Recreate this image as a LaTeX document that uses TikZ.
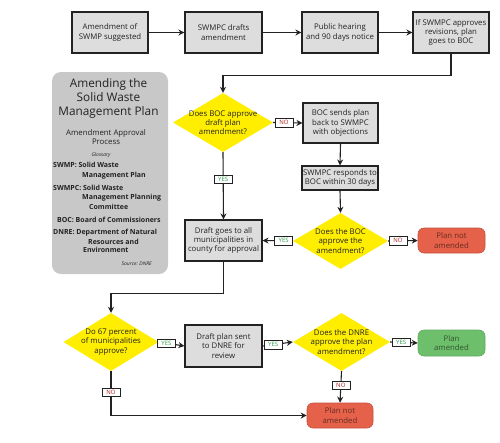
\documentclass[tikz,border=0pt]{standalone}
\usepackage{fontspec}
\setmainfont{Open Sans}
\usetikzlibrary{shapes.geometric,arrows.meta}
\definecolor{boxgray}{HTML}{DDDDDD}
\definecolor{glossgray}{HTML}{C8C8C8}
\definecolor{diayellow}{HTML}{FFEE00}
\definecolor{termred}{HTML}{E5614A}
\definecolor{termgreen}{HTML}{6DBF6B}
\definecolor{yesgreen}{HTML}{2E9A4A}
\definecolor{nored}{HTML}{B02020}
\definecolor{ink}{HTML}{222222}
\newcommand{\boxfont}{\fontsize{7.8}{9.2}\selectfont}
\newcommand{\lblfont}{\fontsize{6}{6}\selectfont}
\begin{document}
\begin{tikzpicture}[x=1pt,y=-1pt,
  proc/.style={draw=ink, line width=1.1pt, fill=boxgray, inner sep=1pt, align=center, font=\boxfont, text=ink},
  dec/.style={diamond, fill=diayellow, inner sep=0pt},
  dtext/.style={align=center, font=\boxfont, text=ink},
  term/.style={rounded corners=6pt, inner sep=1pt, align=center, font=\boxfont, line width=0.6pt},
  conn/.style={line width=1.1pt, draw=ink, -{Stealth[length=6pt,width=6pt]}},
  yeslbl/.style={draw=ink, line width=0.6pt, fill=white, text=yesgreen, font=\lblfont, inner sep=1pt, minimum width=18pt, minimum height=8.5pt},
  nolbl/.style={draw=ink, line width=0.6pt, fill=white, text=nored, font=\lblfont, inner sep=1pt, minimum width=18pt, minimum height=8.5pt},
  gl/.style={font=\fontsize{7}{8}\selectfont\bfseries, text=ink, inner sep=0pt}
]
\useasboundingbox[fill=white] (0,0) rectangle (500,442);

% glossary panel
\node[fill=glossgray, rounded corners=9pt, minimum width=116pt, minimum height=202pt, inner sep=0pt] (gloss) at (110,173) {};
\node[font=\fontsize{11.8}{14}\selectfont, text=ink, align=center, inner sep=0pt] (gtitle) at (108.5,98) {Amending the\\Solid Waste\\Management Plan};
\node[font=\fontsize{7.8}{9}\selectfont, text=ink, align=center, inner sep=0pt] (gsub) at (106,137.5) {Amendment Approval\\Process};
\node[font=\fontsize{5}{6}\selectfont\itshape, text=ink, inner sep=0pt] (gglos) at (101,155) {Glossary};
\node[gl, anchor=west] (g1) at (53,165) {SWMP: Solid Waste};
\node[gl, anchor=west] (g2) at (82,176) {Management Plan};
\node[gl, anchor=west] (g3) at (53,188) {SWMPC: Solid Waste};
\node[gl, anchor=west] (g4) at (82,198) {Management Planning};
\node[gl, anchor=west] (g5) at (89,207) {Committee};
\node[gl, anchor=west] (g6) at (57,220) {BOC: Board of Commissioners};
\node[gl, anchor=west] (g7) at (53,233) {DNRE: Department of Natural};
\node[gl, anchor=west] (g8) at (88,242) {Resources and};
\node[gl, anchor=west] (g9) at (83,250) {Environment};
\node[font=\fontsize{5}{6}\selectfont\itshape, text=ink, inner sep=0pt, anchor=east] (gsrc) at (152,264) {Source: DNRE};

% top row
\node[proc, minimum width=76pt, minimum height=41pt] (b1) at (110,32.5) {Amendment of\\SWMP suggested};
\node[proc, minimum width=77pt, minimum height=41pt] (b2) at (223.5,32.5) {SWMPC drafts\\amendment};
\node[proc, minimum width=76pt, minimum height=41pt] (b3) at (340,32.5) {Public hearing\\and 90 days notice};
\node[proc, minimum width=76pt, minimum height=41pt] (b4) at (451,32.5) {If SWMPC approves\\revisions, plan\\goes to BOC};

% first decision
\node[dec, minimum width=100pt, minimum height=59pt] (d1) at (223,122.5) {};
\node[dtext] (d1t) at (d1) {Does BOC approve\\draft plan\\amendment?};
\node[proc, minimum width=75pt, minimum height=40pt] (b5) at (340.5,123) {BOC sends plan\\back to SWMPC\\with objections};
\node[proc, minimum width=76pt, minimum height=24pt] (b6) at (340,178) {SWMPC responds to\\BOC within 30 days};

% second decision
\node[dec, minimum width=95pt, minimum height=56pt] (d2) at (340.5,241) {};
\node[dtext] (d2t) at (d2) {Does the BOC\\approve the\\amendment?};
\node[proc, minimum width=77pt, minimum height=41pt] (b7) at (223.5,240.5) {Draft goes to all\\municipalities in\\county for approval};
\node[term, fill=termred, draw=black!15!termred, minimum width=67pt, minimum height=25pt, text=black!55!termred] (r1) at (451.5,240.5) {Plan not\\amended};

% bottom row
\node[dec, minimum width=95pt, minimum height=58pt] (d3) at (111,342) {};
\node[dtext] (d3t) at (d3) {Do 67 percent\\of municipalities\\approve?};
\node[proc, minimum width=77pt, minimum height=42pt] (b8) at (223.5,346) {Draft plan sent\\to DNRE for\\review};
\node[dec, minimum width=97pt, minimum height=58pt] (d4) at (341.5,342) {};
\node[dtext] (d4t) at (d4) {Does the DNRE\\approve the plan\\amendment?};
\node[term, fill=termgreen, draw=black!10!termgreen, minimum width=67pt, minimum height=26pt, text=black!55!termgreen] (gr) at (451.5,343) {Plan\\amended};
\node[term, fill=termred, draw=black!15!termred, minimum width=66pt, minimum height=25pt, text=black!55!termred] (r2) at (340,415.5) {Plan not\\amended};

% connectors
\draw[conn] (b1) -- (b2);
\draw[conn] (b2) -- (b3);
\draw[conn] (b3) -- (b4);
\draw[conn] (b4.south) -- ++(0,22) -| (d1.north);
\draw[conn] (d1.east) -- node[nolbl, pos=0.37] (l1) {NO} (b5.west);
\draw[conn] (b5.south) -- (b6.north);
\draw[conn] (b6.south) -- (d2.north);
\draw[conn] (d1.south) -- node[yeslbl, pos=0.4] (l2) {YES} (b7.north);
\draw[conn] (d2.west) -- node[yeslbl, pos=0.3] (l3) {YES} (b7.east);
\draw[conn] (d2.east) -- node[nolbl, pos=0.33] (l4) {NO} (r1.west);
\draw[conn] (b7.south) -- ++(0,32) -| (d3.north);
\draw[conn] (d3.east) -- node[yeslbl, pos=0.3] (l5) {YES} (b8.west);
\draw[conn] (b8.east) -- node[yeslbl, pos=0.35] (l6) {YES} (d4.west);
\draw[conn] (d4.east) -- node[yeslbl, pos=0.4] (l7) {YES} (gr.west);
\draw[conn] (d4.south) -- node[nolbl, pos=0.45] (l8) {NO} (r2.north);
\draw[conn] (d3.south) |- node[nolbl, pos=0.24] (l9) {NO} (r2.west);
\end{tikzpicture}
\end{document}
